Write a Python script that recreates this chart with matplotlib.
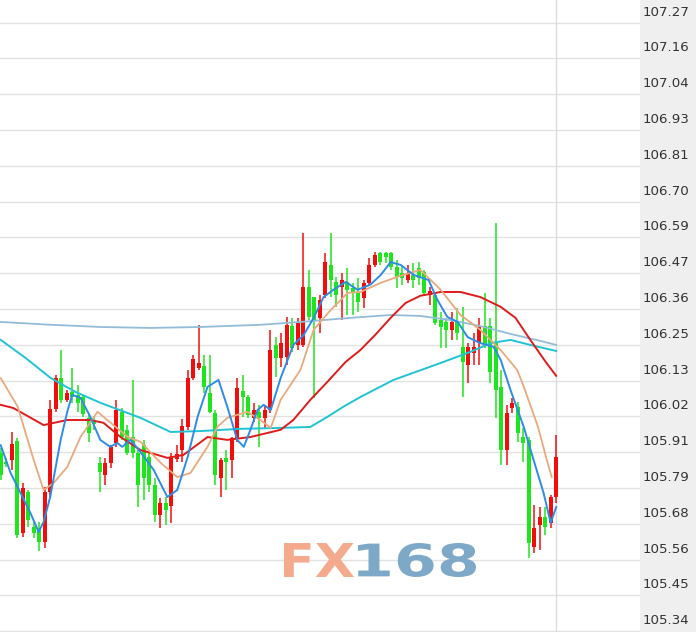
import matplotlib
matplotlib.use('Agg')
import matplotlib.pyplot as plt
from matplotlib.transforms import blended_transform_factory, Affine2D, IdentityTransform
from matplotlib.textpath import TextPath
from matplotlib.patches import PathPatch
from matplotlib.font_manager import FontProperties
import numpy as np

# ---------------- data ----------------
opens = [105.906, 105.877, 105.883, 105.944, 105.652, 105.782, 105.671, 105.668, 105.624, 105.782,
         106.045, 106.143, 106.074, 106.099, 106.090, 106.083, 106.017, 106.010, 105.874, 105.836,
         105.874, 105.937, 106.036, 105.979, 105.956, 105.906, 105.931, 105.893, 105.804, 105.709,
         105.747, 105.737, 105.887, 105.915, 105.988, 106.143, 106.175, 106.182, 106.096, 106.033,
         105.826, 105.890, 105.883, 105.953, 106.102, 106.083, 106.017, 106.036, 106.017, 106.042,
         106.248, 106.207, 106.210, 106.308, 106.248, 106.248, 106.432, 106.400, 106.334, 106.407,
         106.502, 106.448, 106.432, 106.448, 106.429, 106.416, 106.397, 106.445, 106.502, 106.540,
         106.540, 106.540, 106.496, 106.477, 106.454, 106.470, 106.492, 106.480, 106.407, 106.407,
         106.327, 106.321, 106.296, 106.321, 106.242, 106.185, 106.223, 106.254, 106.308, 106.308,
         106.254, 106.115, 105.915, 106.048, 106.052, 105.956, 105.947, 105.608, 105.677, 105.703,
         105.684, 105.766]
closes = [105.836, 105.871, 105.934, 105.645, 105.794, 105.693, 105.652, 105.624, 105.782, 106.045,
          106.143, 106.074, 106.096, 106.083, 106.064, 106.029, 105.969, 105.998, 105.846, 105.874,
          105.925, 106.042, 105.956, 105.906, 105.906, 105.804, 105.826, 105.804, 105.709, 105.747,
          105.725, 105.890, 105.902, 105.991, 106.143, 106.204, 106.191, 106.115, 106.036, 105.836,
          105.883, 105.877, 105.953, 106.112, 106.083, 106.026, 106.042, 106.017, 106.042, 106.232,
          106.207, 106.254, 106.312, 106.239, 106.318, 106.432, 106.337, 106.327, 106.391, 106.511,
          106.454, 106.407, 106.454, 106.423, 106.413, 106.385, 106.445, 106.502, 106.534, 106.511,
          106.527, 106.496, 106.464, 106.461, 106.477, 106.454, 106.461, 106.413, 106.419, 106.318,
          106.305, 106.296, 106.321, 106.286, 106.194, 106.242, 106.242, 106.305, 106.248, 106.163,
          106.105, 105.915, 106.033, 106.064, 105.969, 105.937, 105.620, 105.668, 105.703, 105.671,
          105.766, 105.893]
highs = [105.922, 105.890, 105.972, 105.953, 105.810, 105.788, 105.687, 105.687, 105.798, 106.074,
         106.153, 106.232, 106.105, 106.175, 106.121, 106.090, 106.026, 106.023, 105.893, 105.890,
         105.931, 106.074, 106.048, 105.994, 106.137, 105.915, 105.947, 105.915, 105.826, 105.763,
         105.766, 105.906, 105.931, 106.013, 106.169, 106.217, 106.312, 106.217, 106.217, 106.042,
         105.890, 105.915, 105.956, 106.143, 106.153, 106.090, 106.064, 106.058, 106.058, 106.296,
         106.273, 106.286, 106.337, 106.334, 106.334, 106.603, 106.486, 106.400, 106.407, 106.540,
         106.603, 106.464, 106.477, 106.492, 106.445, 106.461, 106.454, 106.524, 106.543, 106.543,
         106.543, 106.543, 106.518, 106.502, 106.502, 106.508, 106.511, 106.486, 106.432, 106.416,
         106.353, 106.334, 106.353, 106.366, 106.369, 106.254, 106.286, 106.334, 106.413, 106.334,
         106.635, 106.169, 106.058, 106.080, 106.068, 105.985, 105.956, 105.741, 105.734, 105.734,
         105.772, 105.962]
lows = [105.820, 105.861, 105.852, 105.636, 105.639, 105.671, 105.636, 105.595, 105.604, 105.766,
        106.036, 106.064, 106.068, 106.064, 106.036, 106.020, 105.941, 105.979, 105.782, 105.804,
        105.858, 105.925, 105.947, 105.899, 105.890, 105.734, 105.756, 105.782, 105.687, 105.668,
        105.677, 105.684, 105.877, 105.877, 105.979, 106.137, 106.169, 106.096, 106.033, 105.804,
        105.766, 105.788, 105.826, 105.941, 106.020, 106.017, 106.004, 105.925, 105.985, 106.033,
        106.147, 106.178, 106.185, 106.226, 106.232, 106.242, 106.327, 106.080, 106.286, 106.397,
        106.400, 106.369, 106.327, 106.343, 106.343, 106.353, 106.366, 106.439, 106.496, 106.502,
        106.508, 106.486, 106.429, 106.439, 106.445, 106.429, 106.439, 106.407, 106.375, 106.312,
        106.239, 106.239, 106.264, 106.264, 106.083, 106.128, 106.185, 106.185, 106.239, 106.128,
        106.017, 105.868, 105.868, 106.033, 105.941, 105.877, 105.572, 105.588, 105.598, 105.645,
        105.668, 105.747]

# moving-average lines, read at sampled candle positions
ma_blue_idx = [0, 1.8, 3.6, 5.4, 6.9, 7.8, 9.0, 10.9, 12.1, 13.0, 14.5, 16.3, 18.1, 19.9, 21.2, 22.1,
               23.6, 25.4, 27.8, 30.3, 32.1, 34.0, 35.8, 37.6, 39.6, 41.2, 43.0, 44.2, 45.4, 46.7,
               47.8, 49.1, 50.9, 53.2, 55.1, 56.9, 58.7, 60.5, 62.7, 64.9, 67.2, 69.1, 70.9, 72.7,
               75.1, 77.8, 79.4, 81.2, 83.1, 84.9, 87.2, 89.6, 90.9, 92.7, 95.1, 96.9, 98.7, 100.0, 101.0]
ma_blue = [105.930, 105.842, 105.779, 105.715, 105.655, 105.687, 105.766, 105.947, 106.036, 106.090,
           106.080, 106.020, 105.947, 105.925, 105.937, 105.925, 105.947, 105.909, 105.852, 105.766,
           105.788, 105.893, 106.020, 106.115, 106.137, 106.052, 105.947, 105.925, 105.979, 106.042,
           106.058, 106.042, 106.143, 106.248, 106.280, 106.334, 106.400, 106.423, 106.448, 106.423,
           106.439, 106.470, 106.511, 106.502, 106.470, 106.454, 106.391, 106.337, 106.321, 106.273,
           106.254, 106.242, 106.201, 106.105, 105.988, 105.883, 105.779, 105.684, 105.734]

ma_tan_idx = [0, 3.1, 6.0, 7.8, 9.6, 12.1, 14.5, 17.6, 20.0, 23.1, 25.4, 29.1, 32.1, 34.5, 37.6, 39.4,
              41.2, 44.9, 47.2, 49.1, 50.9, 54.5, 56.9, 60.0, 63.1, 65.4, 69.1, 72.1, 76.3, 80.0,
              83.6, 87.2, 90.9, 93.9, 95.0, 97.7, 99.3, 100.2]
ma_tan = [106.143, 106.052, 105.883, 105.788, 105.810, 105.861, 105.956, 106.036, 106.001, 105.956,
          105.941, 105.874, 105.829, 105.842, 105.925, 105.988, 106.017, 106.036, 106.010, 105.985,
          106.074, 106.169, 106.296, 106.359, 106.413, 106.416, 106.445, 106.464, 106.486, 106.423,
          106.343, 106.296, 106.232, 106.169, 106.121, 105.988, 105.883, 105.829]

ma_red_idx = [0, 2.3, 7.8, 12.1, 16.3, 18.7, 21.8, 25.4, 30.3, 33.2, 37.6, 41.2, 45.4, 50.9, 53.2,
              56.3, 59.4, 62.7, 65.4, 68.1, 70.9, 73.6, 76.3, 80.0, 83.6, 87.2, 90.9, 93.6, 96.3,
              99.1, 101.0]
ma_red = [106.058, 106.048, 105.994, 106.010, 106.010, 106.001, 105.956, 105.915, 105.890, 105.899,
          105.956, 105.947, 105.956, 105.979, 106.010, 106.074, 106.131, 106.194, 106.232, 106.280,
          106.334, 106.381, 106.404, 106.416, 106.416, 106.400, 106.369, 106.334, 106.264, 106.194,
          106.150]

ma_cyan_idx = [0, 4.5, 9.1, 13.6, 18.2, 25.4, 30.9, 36.3, 43.6, 50.9, 56.3, 59.4, 62.3, 65.4, 71.4,
               80.0, 85.4, 89.1, 92.7, 96.3, 101.0]
ma_cyan = [106.264, 106.207, 106.143, 106.099, 106.064, 106.017, 105.972, 105.975, 105.982, 105.985,
           105.988, 106.020, 106.052, 106.083, 106.137, 106.191, 106.226, 106.254, 106.264, 106.248,
           106.229]

ma_lblue_idx = [0, 9.1, 18.2, 27.2, 36.3, 47.2, 54.5, 63.6, 70.9, 76.3, 81.8, 87.2, 92.7, 98.1, 101.0]
ma_lblue = [106.321, 106.312, 106.305, 106.302, 106.305, 106.312, 106.321, 106.334, 106.343, 106.340,
            106.327, 106.308, 106.283, 106.261, 106.248]

tick_labels = ['107.27', '107.16', '107.04', '106.93', '106.81', '106.70', '106.59', '106.47',
               '106.36', '106.25', '106.13', '106.02', '105.91', '105.79', '105.68', '105.56',
               '105.45', '105.34']
axis_max = 107.27
axis_min = 105.34

# ---------------- styling ----------------
RED = '#f20d0d'
GREEN = '#1ee61e'
W, H, DPI = 696, 632, 100

fig = plt.figure(figsize=(W / DPI, H / DPI), dpi=DPI)
fig.patch.set_facecolor('#efefef')
ax = fig.add_axes([0, 0, 640 / W, 1])
ax.set_facecolor('white')
for s in ax.spines.values():
    s.set_visible(False)
ax.set_xticks([])
ax.set_yticks([])

n = len(closes)
idx = np.arange(n)
tick_vals = np.linspace(axis_max, axis_min, len(tick_labels))
step = (axis_max - axis_min) / (len(tick_labels) - 1)

ax.set_ylim(axis_min - step * 0.02, axis_max + step * 0.634)
ax.set_xlim(-0.13, 116.24)

# horizontal grid
for v in tick_vals:
    ax.axhline(v, color='#e2e2e2', lw=1.0, zorder=0)
# vertical marker line at last candle
ax.axvline(n - 1, color='#dcdcdc', lw=1.0, zorder=0)

# watermark drawn as scaled text outlines (pixel boxes)
fp = FontProperties(family='DejaVu Sans', weight='bold')
def wm(txt, x0, x1, ytop, ybot, color):
    tp = TextPath((0, 0), txt, size=10, prop=fp)
    bb = tp.get_extents()
    sx = (x1 - x0) / bb.width
    sy = (ybot - ytop) / bb.height
    tr = Affine2D().translate(-bb.x0, -bb.y0).scale(sx, sy).translate(x0, H - ybot)
    patch = PathPatch(tr.transform_path(tp), facecolor=color, edgecolor='none',
                      transform=IdentityTransform(), zorder=1)
    ax.add_artist(patch)
wm('FX', 284, 354, 543, 577, '#f4ab8d')
wm('168', 358, 476, 543, 577, '#7ea8c8')

# candles
o = np.array(opens); c = np.array(closes); h = np.array(highs); l = np.array(lows)
cols = np.where(c >= o, RED, GREEN)
ax.vlines(idx, l, h, colors=cols, lw=1.1, zorder=2)
bottom = np.minimum(o, c)
height = np.maximum(np.abs(c - o), 0.004)
ax.bar(idx, height, bottom=bottom, width=0.72, color=cols, linewidth=0, zorder=3)

# moving averages
ax.plot(ma_lblue_idx, ma_lblue, color='#93bcd8', lw=1.3, zorder=4)
ax.plot(ma_cyan_idx, ma_cyan, color='#1fc4d4', lw=1.4, zorder=4)
ax.plot(ma_red_idx, ma_red, color='#e01b1b', lw=1.4, zorder=4)
ax.plot(ma_tan_idx, ma_tan, color='#e9a97c', lw=1.3, zorder=5)
ax.plot(ma_blue_idx, ma_blue, color='#2e8be6', lw=1.4, zorder=6)

# right-side price labels (sit just above their grid line)
trans = blended_transform_factory(ax.transAxes, ax.transData)
for v, lab in zip(tick_vals, tick_labels):
    ax.annotate(lab, xy=(643 / 640, v), xycoords=trans, xytext=(0, 7.6), textcoords='offset points',
                ha='left', va='center', fontsize=9.6, color='#333333', annotation_clip=False)

fig.savefig('out.png', dpi=DPI, facecolor=fig.get_facecolor())
